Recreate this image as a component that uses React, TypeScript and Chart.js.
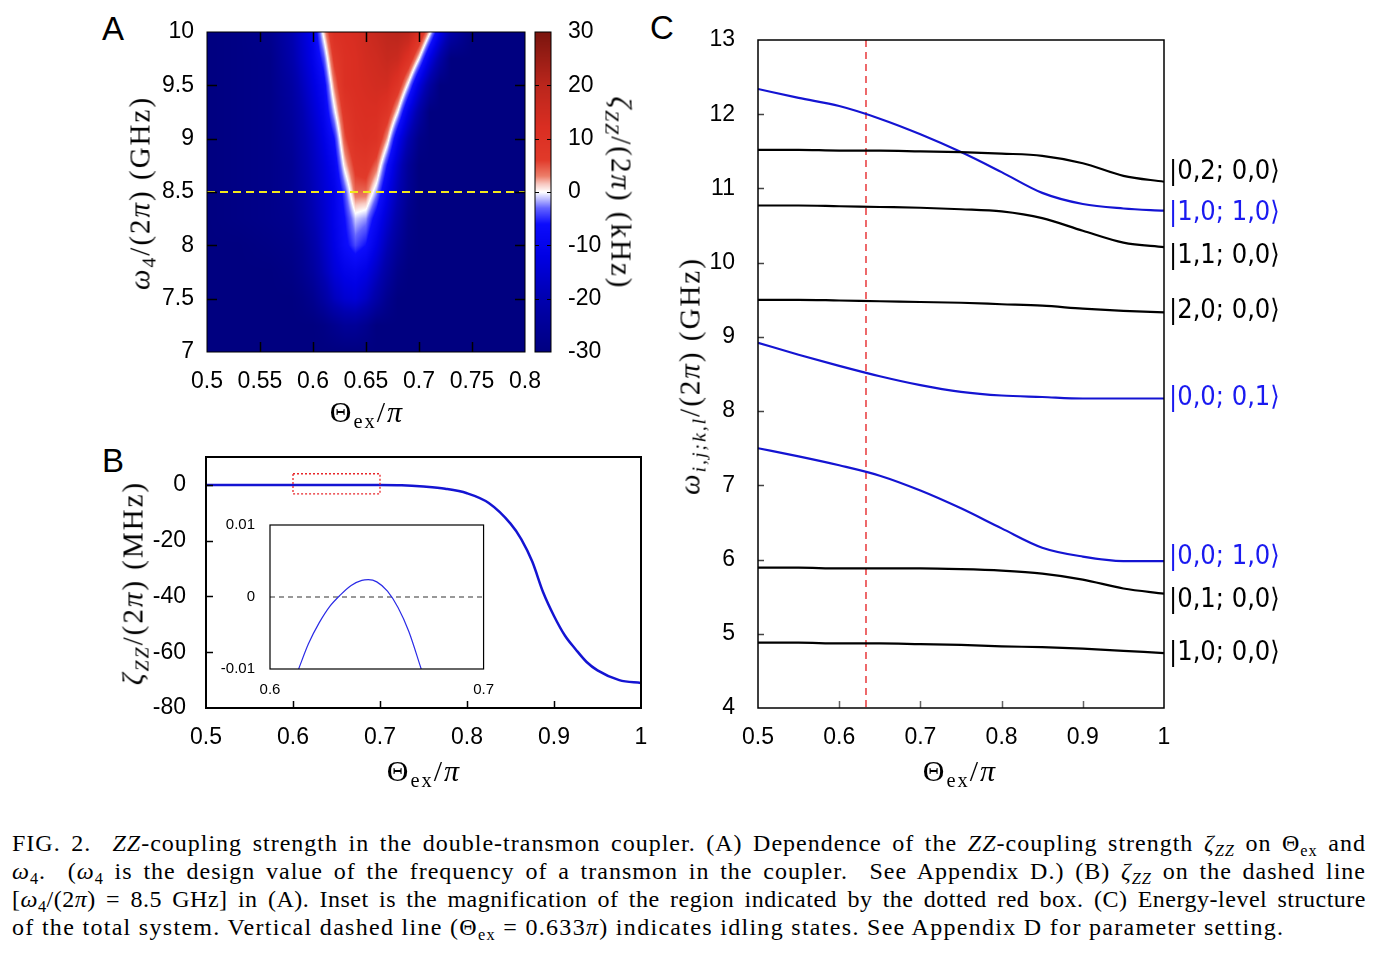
import React, { useEffect, useRef } from "react";
import { Chart, registerables } from "chart.js";

Chart.register(...registerables);

const FONT_SANS = '"Liberation Sans", Arial, Helvetica, sans-serif';
const FONT_SERIF = '"Liberation Serif", "Times New Roman", Times, serif';

/* ---------------- Panel A : zeta_ZZ map (kHz) ---------------- */
const mapTheta = [0.5, 0.53, 0.56, 0.58, 0.59, 0.6, 0.61, 0.62, 0.63, 0.64, 0.65, 0.66, 0.67, 0.68, 0.69, 0.7, 0.71, 0.72, 0.73, 0.75, 0.8];
const mapOmega = [7.0, 7.25, 7.5, 7.75, 8.0, 8.25, 8.5, 8.75, 9.0, 9.25, 9.5, 9.75, 10.0];
// one row per omega_4 value, one entry per Theta column (kHz, clipped to the colour range)
const zzAt7_00 = [-30, -30, -30, -30, -30, -30, -30, -30, -30, -30, -30, -30, -30, -30, -30, -30, -30, -30, -30, -30, -30];
const zzAt7_25 = [-30, -30, -30, -30, -30, -30, -29, -27, -25, -25, -27, -30, -30, -30, -30, -30, -30, -30, -30, -30, -30];
const zzAt7_50 = [-30, -30, -30, -30, -29, -27, -23, -18, -15, -14, -17, -22, -27, -30, -30, -30, -30, -30, -30, -30, -30];
const zzAt7_75 = [-30, -30, -30, -29, -27, -24, -19, -14, -11, -10, -12, -17, -23, -28, -30, -30, -30, -30, -30, -30, -30];
const zzAt8_00 = [-30, -30, -29, -28, -26, -22, -17, -12, -7, -4, -6, -12, -19, -25, -29, -30, -30, -30, -30, -30, -30];
const zzAt8_25 = [-30, -29, -28, -27, -24, -20, -16, -11, -6, -1, -2, -8, -15, -22, -28, -30, -30, -30, -30, -30, -30];
const zzAt8_50 = [-30, -29, -28, -26, -23, -19, -15, -11, -4, 4, 4, -2, -11, -19, -26, -30, -30, -30, -30, -30, -30];
const zzAt8_75 = [-30, -29, -28, -26, -22, -18, -14, -9, 1, 7, 8, 4, -6, -16, -25, -30, -30, -30, -30, -30, -30];
const zzAt9_00 = [-30, -29, -28, -25, -21, -17, -12, -6, 5, 10, 11, 10, 2, -10, -20, -28, -30, -30, -30, -30, -30];
const zzAt9_25 = [-30, -29, -28, -24, -20, -15, -10, -1, 8, 11, 12, 12, 9, 0, -12, -22, -30, -30, -30, -30, -30];
const zzAt9_50 = [-30, -29, -28, -23, -18, -13, -8, 3, 11, 12, 13, 14, 14, 9, -1, -13, -23, -30, -30, -30, -30];
const zzAt9_75 = [-30, -29, -28, -21, -16, -11, -4, 7, 11, 12, 14, 15, 17, 16, 10, 0, -12, -22, -30, -30, -30];
const zzAt10_00 = [-30, -29, -27, -20, -15, -10, 1, 11, 12, 13, 15, 17, 19, 20, 19, 12, 1, -11, -21, -30, -30];
const mapRows = [zzAt7_00, zzAt7_25, zzAt7_50, zzAt7_75, zzAt8_00, zzAt8_25, zzAt8_50, zzAt8_75, zzAt9_00, zzAt9_25, zzAt9_50, zzAt9_75, zzAt10_00];

const mapThetaTicks = [0.5, 0.55, 0.6, 0.65, 0.7, 0.75, 0.8];
const mapThetaLabels = ["0.5", "0.55", "0.6", "0.65", "0.7", "0.75", "0.8"];
const mapOmegaTicks = [7, 7.5, 8, 8.5, 9, 9.5, 10];
const mapOmegaLabels = ["7", "7.5", "8", "8.5", "9", "9.5", "10"];
const cutOmega = 8.5;

const barTicks = [-30, -20, -10, 0, 10, 20, 30];
const barLabels = ["-30", "-20", "-10", "0", "10", "20", "30"];

/* ---------------- Panel B : zeta_ZZ on the cut (MHz) ---------------- */
const thetaB = [0.5, 0.55, 0.6, 0.65, 0.7, 0.725, 0.75, 0.775, 0.8, 0.825, 0.85, 0.8625, 0.875, 0.8875, 0.9, 0.9125, 0.925, 0.9375, 0.95, 0.975, 1.0];
const zzB = [0, 0, 0, 0, 0, -0.1, -0.6, -1.4, -3.0, -6.5, -13.9, -19.5, -27.5, -38.5, -47, -54, -59, -63.5, -66.5, -70, -71];
const bThetaTicks = [0.5, 0.6, 0.7, 0.8, 0.9, 1];
const bThetaLabels = ["0.5", "0.6", "0.7", "0.8", "0.9", "1"];
const bZZTicks = [-80, -60, -40, -20, 0];
const bZZLabels = ["-80", "-60", "-40", "-20", "0"];
const boxTheta = [0.6, 0.7];
const boxZZ = [-3.2, 4.0];

/* inset */
const thetaInset = [0.6134, 0.618, 0.623, 0.628, 0.633, 0.638, 0.643, 0.646, 0.65, 0.655, 0.66, 0.665, 0.6708];
const zzInset = [-0.01, -0.0065, -0.0036, -0.0013, 0.0003, 0.0016, 0.0023, 0.0024, 0.0021, 0.0008, -0.0015, -0.0048, -0.01];
const insetThetaTicks = [0.6, 0.7];
const insetThetaLabels = ["0.6", "0.7"];
const insetZZTicks = [-0.01, 0, 0.01];
const insetZZLabels = ["-0.01", "0", "0.01"];

/* ---------------- Panel C : energy levels (GHz) ---------------- */
const thetaC = [0.5, 0.55, 0.6, 0.65, 0.7, 0.75, 0.8, 0.85, 0.9, 0.95, 1.0];
const lvl02_00 = [11.52, 11.52, 11.51, 11.51, 11.5, 11.49, 11.47, 11.44, 11.34, 11.17, 11.09];
const lvl10_10 = [12.34, 12.22, 12.11, 11.94, 11.73, 11.49, 11.22, 10.94, 10.79, 10.73, 10.7];
const lvl11_00 = [10.77, 10.77, 10.76, 10.75, 10.74, 10.72, 10.69, 10.6, 10.43, 10.27, 10.21];
const lvl20_00 = [9.5, 9.5, 9.49, 9.48, 9.47, 9.46, 9.44, 9.42, 9.38, 9.35, 9.33];
const lvl00_01 = [8.92, 8.76, 8.61, 8.47, 8.35, 8.26, 8.21, 8.19, 8.17, 8.17, 8.17];
const lvl00_10 = [7.5, 7.39, 7.27, 7.13, 6.93, 6.69, 6.42, 6.16, 6.04, 5.98, 5.98];
const lvl01_00 = [5.89, 5.89, 5.88, 5.88, 5.88, 5.87, 5.85, 5.81, 5.73, 5.61, 5.54];
const lvl10_00 = [4.88, 4.88, 4.87, 4.87, 4.86, 4.85, 4.83, 4.82, 4.8, 4.77, 4.74];
const levelNames = ["|0,2; 0,0\u27E9", "|1,0; 1,0\u27E9", "|1,1; 0,0\u27E9", "|2,0; 0,0\u27E9", "|0,0; 0,1\u27E9", "|0,0; 1,0\u27E9", "|0,1; 0,0\u27E9", "|1,0; 0,0\u27E9"];
const levelSeries = [lvl02_00, lvl10_10, lvl11_00, lvl20_00, lvl00_01, lvl00_10, lvl01_00, lvl10_00];
const levelIsBlue = [false, true, false, false, true, true, false, false];
const levelLabelAt = [11.22, 10.67, 10.09, 9.35, 8.18, 6.03, 5.45, 4.74];
const cThetaTicks = [0.5, 0.6, 0.7, 0.8, 0.9, 1];
const cThetaLabels = ["0.5", "0.6", "0.7", "0.8", "0.9", "1"];
const cOmegaTicks = [4, 5, 6, 7, 8, 9, 10, 11, 12, 13];
const cOmegaLabels = ["4", "5", "6", "7", "8", "9", "10", "11", "12", "13"];
const idleTheta = 0.633;

/* ---------------- styles ---------------- */
const COLOR_STOPS: number[][] = [
  [-30, 0, 0, 128],
  [-20, 0, 0, 175],
  [-12, 0, 0, 228],
  [-6, 12, 12, 252],
  [-3, 100, 100, 255],
  [-1.5, 180, 180, 255],
  [0, 255, 255, 255],
  [1.5, 248, 200, 192],
  [3, 236, 125, 105],
  [6, 225, 58, 42],
  [12, 218, 46, 34],
  [20, 186, 38, 28],
  [30, 122, 20, 14],
];
const BLUE = "#1414d2";

function zzColor(v: number): number[] {
  const s = COLOR_STOPS;
  if (v <= s[0][0]) return [s[0][1], s[0][2], s[0][3]];
  for (let i = 0; i < s.length - 1; i++) {
    if (v <= s[i + 1][0]) {
      const t = (v - s[i][0]) / (s[i + 1][0] - s[i][0]);
      return [1, 2, 3].map((k) => Math.round(s[i][k] + t * (s[i + 1][k] - s[i][k])));
    }
  }
  const l = s[s.length - 1];
  return [l[1], l[2], l[3]];
}

function locate(arr: number[], v: number): [number, number] {
  const n = arr.length;
  if (v <= arr[0]) return [0, 0];
  if (v >= arr[n - 1]) return [n - 2, 1];
  let i = 0;
  while (i < n - 2 && v > arr[i + 1]) i++;
  return [i, (v - arr[i]) / (arr[i + 1] - arr[i])];
}

function axis(s: any) {
  return {
    type: "linear",
    position: s.position,
    min: s.min,
    max: s.max,
    display: s.display ?? true,
    grid: { display: false, drawTicks: false, drawOnChartArea: false },
    border: { display: false },
    ticks: {
      color: "#000",
      font: { family: FONT_SANS, size: s.fontSize },
      padding: s.padding,
      autoSkip: false,
      maxRotation: 0,
      minRotation: 0,
      callback: (_v: any, i: number) => (s.labels[i] ?? ""),
    },
    afterBuildTicks: (sc: any) => {
      sc.ticks = s.ticks.map((v: number) => ({ value: v }));
    },
    afterFit: (sc: any) => {
      if (sc.isHorizontal()) sc.height = s.size;
      else sc.width = s.size;
    },
  };
}

function baseOptions(padding: any, scales: any) {
  return {
    responsive: false,
    maintainAspectRatio: false,
    animation: false,
    devicePixelRatio: 1,
    events: [],
    layout: { padding },
    plugins: { legend: { display: false }, tooltip: { enabled: false }, title: { display: false } },
    scales,
  };
}

function inner(values: number[]) {
  return values.slice(1, values.length - 1);
}

function inTicks(ctx: any, scale: any, values: number[], side: string, len: number, color: string, width: number, a: any) {
  ctx.save();
  ctx.strokeStyle = color;
  ctx.lineWidth = width;
  ctx.beginPath();
  for (const v of values) {
    const p = Math.round(scale.getPixelForValue(v)) + 0.5;
    if (side === "bottom") { ctx.moveTo(p, a.bottom); ctx.lineTo(p, a.bottom - len); }
    if (side === "top") { ctx.moveTo(p, a.top); ctx.lineTo(p, a.top + len); }
    if (side === "left") { ctx.moveTo(a.left, p); ctx.lineTo(a.left + len, p); }
    if (side === "right") { ctx.moveTo(a.right, p); ctx.lineTo(a.right - len, p); }
  }
  ctx.stroke();
  ctx.restore();
}

function frame(ctx: any, a: any, width: number, color: string) {
  ctx.save();
  ctx.strokeStyle = color;
  ctx.lineWidth = width;
  ctx.strokeRect(a.left, a.top, a.right - a.left, a.bottom - a.top);
  ctx.restore();
}

function pts(xs: number[], ys: number[]) {
  return xs.map((x, i) => ({ x, y: ys[i] }));
}

/* ---------------- chart configs ---------------- */
function mapConfig(): any {
  return {
    type: "scatter",
    data: { datasets: [] },
    options: baseOptions({ left: 0, top: 30, right: 30, bottom: 0 }, {
      x: axis({ position: "bottom", min: 0.5, max: 0.8, ticks: mapThetaTicks, labels: mapThetaLabels, size: 50, padding: 16, fontSize: 23 }),
      y: axis({ position: "left", min: 7, max: 10, ticks: mapOmegaTicks, labels: mapOmegaLabels, size: 70, padding: 13, fontSize: 23 }),
    }),
    plugins: [{
      id: "zzmap",
      afterDraw(chart: any) {
        const { ctx, chartArea: a } = chart;
        const xs = chart.scales.x, ys = chart.scales.y;
        const w = Math.round(a.right - a.left), h = Math.round(a.bottom - a.top);
        const off = document.createElement("canvas");
        off.width = w; off.height = h;
        const o = off.getContext("2d") as CanvasRenderingContext2D;
        const img = o.createImageData(w, h);
        for (let j = 0; j < h; j++) {
          const [r, ty] = locate(mapOmega, ys.getValueForPixel(a.top + j + 0.5));
          const lo = mapRows[r], hi = mapRows[r + 1];
          for (let i = 0; i < w; i++) {
            const [c, tx] = locate(mapTheta, xs.getValueForPixel(a.left + i + 0.5));
            const z = (1 - ty) * ((1 - tx) * lo[c] + tx * lo[c + 1]) + ty * ((1 - tx) * hi[c] + tx * hi[c + 1]);
            const col = zzColor(z);
            const k = (j * w + i) * 4;
            img.data[k] = col[0]; img.data[k + 1] = col[1]; img.data[k + 2] = col[2]; img.data[k + 3] = 255;
          }
        }
        o.putImageData(img, 0, 0);
        ctx.drawImage(off, a.left, a.top);
        ctx.save();
        ctx.strokeStyle = "#f2e81c";
        ctx.lineWidth = 2;
        ctx.setLineDash([8, 5]);
        const yy = ys.getPixelForValue(cutOmega);
        ctx.beginPath();
        ctx.moveTo(xs.getPixelForValue(0.5), yy);
        ctx.lineTo(xs.getPixelForValue(0.8), yy);
        ctx.stroke();
        ctx.restore();
        inTicks(ctx, xs, inner(mapThetaTicks), "bottom", 10, "#000", 1.5, a);
        inTicks(ctx, xs, inner(mapThetaTicks), "top", 10, "#000", 1.5, a);
        inTicks(ctx, ys, inner(mapOmegaTicks), "left", 10, "#000", 1.5, a);
        inTicks(ctx, ys, inner(mapOmegaTicks), "right", 10, "#000", 1.5, a);
        frame(ctx, a, 1, "#000");
      },
    }],
  };
}

function barConfig(): any {
  return {
    type: "scatter",
    data: { datasets: [] },
    options: baseOptions({ left: 5, top: 34, right: 0, bottom: 34 }, {
      x: { type: "linear", display: false, min: 0, max: 1 },
      y: axis({ position: "right", min: -30, max: 30, ticks: barTicks, labels: barLabels, size: 70, padding: 17, fontSize: 23 }),
    }),
    plugins: [{
      id: "colorbar",
      afterDraw(chart: any) {
        const { ctx, chartArea: a } = chart;
        const ys = chart.scales.y;
        for (let j = Math.floor(a.top); j < Math.ceil(a.bottom); j++) {
          const c = zzColor(ys.getValueForPixel(j + 0.5));
          ctx.fillStyle = `rgb(${c[0]},${c[1]},${c[2]})`;
          ctx.fillRect(a.left, j, a.right - a.left, 1);
        }
        inTicks(ctx, ys, inner(barTicks), "left", 4, "#000", 1.2, a);
        inTicks(ctx, ys, inner(barTicks), "right", 4, "#000", 1.2, a);
        frame(ctx, a, 1, "#000");
      },
    }],
  };
}

function bConfig(): any {
  return {
    type: "line",
    data: {
      datasets: [{
        data: pts(thetaB, zzB),
        borderColor: BLUE,
        borderWidth: 2.5,
        pointRadius: 0,
        cubicInterpolationMode: "monotone",
        fill: false,
      }],
    },
    options: baseOptions({ left: 0, top: 36, right: 25, bottom: 0 }, {
      x: axis({ position: "bottom", min: 0.5, max: 1, ticks: bThetaTicks, labels: bThetaLabels, size: 60, padding: 16, fontSize: 23 }),
      y: axis({ position: "left", min: -80, max: 10, ticks: bZZTicks, labels: bZZLabels, size: 80, padding: 20, fontSize: 23 }),
    }),
    plugins: [{
      id: "bdeco",
      afterDraw(chart: any) {
        const { ctx, chartArea: a } = chart;
        const xs = chart.scales.x, ys = chart.scales.y;
        inTicks(ctx, xs, inner(bThetaTicks), "bottom", 7, "#000", 1.5, a);
        inTicks(ctx, ys, bZZTicks.slice(1), "left", 7, "#000", 1.5, a);
        ctx.save();
        ctx.strokeStyle = "#e8262a";
        ctx.lineWidth = 1.3;
        ctx.setLineDash([2, 2]);
        const x0 = xs.getPixelForValue(boxTheta[0]), x1 = xs.getPixelForValue(boxTheta[1]);
        const y0 = ys.getPixelForValue(boxZZ[1]), y1 = ys.getPixelForValue(boxZZ[0]);
        ctx.strokeRect(x0, y0, x1 - x0, y1 - y0);
        ctx.restore();
        frame(ctx, a, 2, "#000");
      },
    }],
  };
}

function insetConfig(): any {
  return {
    type: "line",
    data: {
      datasets: [{
        data: pts(thetaInset, zzInset),
        borderColor: "#2a2ae6",
        borderWidth: 1.2,
        pointRadius: 0,
        cubicInterpolationMode: "monotone",
        fill: false,
      }],
    },
    options: baseOptions({ left: 0, top: 26, right: 20, bottom: 0 }, {
      x: axis({ position: "bottom", min: 0.6, max: 0.7, ticks: insetThetaTicks, labels: insetThetaLabels, size: 35, padding: 12, fontSize: 15 }),
      y: axis({ position: "left", min: -0.01, max: 0.01, ticks: insetZZTicks, labels: insetZZLabels, size: 60, padding: 15, fontSize: 15 }),
    }),
    plugins: [{
      id: "insetdeco",
      beforeDraw(chart: any) {
        const { ctx, chartArea: a } = chart;
        ctx.save();
        ctx.fillStyle = "#fff";
        ctx.fillRect(a.left, a.top, a.right - a.left, a.bottom - a.top);
        ctx.restore();
      },
      beforeDatasetsDraw(chart: any) {
        const { ctx, chartArea: a } = chart;
        const ys = chart.scales.y;
        const y0 = ys.getPixelForValue(0);
        ctx.save();
        ctx.strokeStyle = "#333";
        ctx.lineWidth = 1.2;
        ctx.setLineDash([5, 4]);
        ctx.beginPath();
        ctx.moveTo(a.left, y0);
        ctx.lineTo(a.right, y0);
        ctx.stroke();
        ctx.restore();
      },
      afterDraw(chart: any) {
        frame(chart.ctx, chart.chartArea, 1.2, "#000");
      },
    }],
  };
}

function cConfig(): any {
  return {
    type: "line",
    data: {
      datasets: levelSeries.map((s, i) => ({
        data: pts(thetaC, s),
        borderColor: levelIsBlue[i] ? BLUE : "#000",
        borderWidth: 2.2,
        pointRadius: 0,
        cubicInterpolationMode: "monotone",
        fill: false,
      })),
    },
    options: baseOptions({ left: 0, top: 40, right: 130, bottom: 0 }, {
      x: axis({ position: "bottom", min: 0.5, max: 1, ticks: cThetaTicks, labels: cThetaLabels, size: 60, padding: 16, fontSize: 23 }),
      y: axis({ position: "left", min: 4, max: 13, ticks: cOmegaTicks, labels: cOmegaLabels, size: 75, padding: 23, fontSize: 23 }),
    }),
    plugins: [{
      id: "cdeco",
      beforeDatasetsDraw(chart: any) {
        const { ctx, chartArea: a } = chart;
        const xs = chart.scales.x;
        const x = xs.getPixelForValue(idleTheta);
        ctx.save();
        ctx.strokeStyle = "#e8383a";
        ctx.lineWidth = 1.5;
        ctx.setLineDash([7, 5]);
        ctx.beginPath();
        ctx.moveTo(x, a.top);
        ctx.lineTo(x, a.bottom);
        ctx.stroke();
        ctx.restore();
      },
      afterDraw(chart: any) {
        const { ctx, chartArea: a } = chart;
        const xs = chart.scales.x, ys = chart.scales.y;
        inTicks(ctx, xs, inner(cThetaTicks), "bottom", 7, "#666", 1.5, a);
        inTicks(ctx, ys, inner(cOmegaTicks), "left", 6, "#444", 1.5, a);
        frame(ctx, a, 1.5, "#000");
        ctx.save();
        ctx.font = '27px "DejaVu Sans Condensed", "DejaVu Sans", sans-serif';
        ctx.textBaseline = "middle";
        ctx.textAlign = "left";
        levelNames.forEach((name, i) => {
          ctx.fillStyle = levelIsBlue[i] ? "#1a1af0" : "#000";
          ctx.fillText(name, a.right + 5, ys.getPixelForValue(levelLabelAt[i]));
        });
        ctx.restore();
      },
    }],
  };
}

/* ---------------- HTML text helpers ---------------- */
const Sub = ({ children }: any) => (
  <span style={{ fontSize: "0.68em", position: "relative", top: "0.3em", lineHeight: 0 }}>{children}</span>
);

function At({ x, y, rot = 0, size, family = FONT_SERIF, spacing = 0, children }: any) {
  return (
    <div
      style={{
        position: "absolute",
        left: x,
        top: y,
        transform: `translate(-50%, -50%) rotate(${rot}deg)`,
        fontFamily: family,
        fontSize: size,
        lineHeight: 1,
        whiteSpace: "nowrap",
        letterSpacing: spacing,
        color: "#000",
      }}
    >
      {children}
    </div>
  );
}

function CapLine({ top, last = false, spacing = 1.0, children }: any) {
  return (
    <div
      style={{
        position: "absolute",
        left: 12,
        top,
        width: 1354,
        fontFamily: FONT_SERIF,
        fontSize: 24,
        letterSpacing: spacing,
        lineHeight: "28px",
        textAlign: last ? "left" : "justify",
        textAlignLast: last ? "left" : "justify",
        color: "#000",
      } as any}
    >
      {children}
    </div>
  );
}

const thetaTitle = (
  <span>
    Θ<Sub>ex</Sub>/<i>π</i>
  </span>
);

export default function App() {
  const mapRef = useRef<HTMLCanvasElement>(null);
  const barRef = useRef<HTMLCanvasElement>(null);
  const bRef = useRef<HTMLCanvasElement>(null);
  const insetRef = useRef<HTMLCanvasElement>(null);
  const cRef = useRef<HTMLCanvasElement>(null);

  useEffect(() => {
    const charts = [
      new Chart(mapRef.current as any, mapConfig()),
      new Chart(barRef.current as any, barConfig()),
      new Chart(bRef.current as any, bConfig()),
      new Chart(insetRef.current as any, insetConfig()),
      new Chart(cRef.current as any, cConfig()),
    ];
    return () => charts.forEach((c) => c.destroy());
  }, []);

  const cv = (left: number, top: number, width: number, height: number) => ({
    position: "absolute" as const,
    left,
    top,
    width,
    height,
  });

  return (
    <div style={{ position: "absolute", left: 0, top: 0, width: 1382, height: 954, background: "#fff", overflow: "hidden" }}>
      <canvas ref={mapRef} width={420} height={400} style={cv(137, 2, 420, 400)} />
      <canvas ref={barRef} width={91} height={388} style={cv(530, -2, 91, 388)} />
      <canvas ref={bRef} width={540} height={347} style={cv(126, 421, 540, 347)} />
      <canvas ref={insetRef} width={296} height={205} style={cv(210, 499, 296, 205)} />
      <canvas ref={cRef} width={611} height={768} style={cv(683, 0, 611, 768)} />

      <At x={113} y={28} size={33} family={FONT_SANS}>A</At>
      <At x={113} y={460} size={33} family={FONT_SANS}>B</At>
      <At x={662} y={27} size={33} family={FONT_SANS}>C</At>

      <At x={367} y={412} size={30} spacing={2}>{thetaTitle}</At>
      <At x={424} y={771} size={30} spacing={2}>{thetaTitle}</At>
      <At x={960} y={771} size={30} spacing={2}>{thetaTitle}</At>

      <At x={140} y={193} rot={-90} size={29} spacing={2}>
        <i>ω</i><Sub>4</Sub>/(2<i>π</i>) (GHz)
      </At>
      <At x={621} y={193} rot={90} size={29} spacing={2}>
        <i>ζ</i><Sub><i>ZZ</i></Sub>/(2<i>π</i>) (kHz)
      </At>
      <At x={133} y={583} rot={-90} size={29} spacing={2}>
        <i>ζ</i><Sub><i>ZZ</i></Sub>/(2<i>π</i>) (MHz)
      </At>
      <At x={690} y={376} rot={-90} size={29} spacing={2}>
        <i>ω</i><Sub><i>i,j;k,l</i></Sub>/(2<i>π</i>) (GHz)
      </At>

      <CapLine top={829} spacing={1.0}>
        FIG. 2.&nbsp; <i>ZZ</i>-coupling strength in the double-transmon coupler. (A) Dependence of the <i>ZZ</i>-coupling strength <i>ζ</i><Sub><i>ZZ</i></Sub> on Θ<Sub>ex</Sub> and
      </CapLine>
      <CapLine top={857} spacing={1.0}>
        <i>ω</i><Sub>4</Sub>.&nbsp; (<i>ω</i><Sub>4</Sub> is the design value of the frequency of a transmon in the coupler.&nbsp; See Appendix D.) (B) <i>ζ</i><Sub><i>ZZ</i></Sub> on the dashed line
      </CapLine>
      <CapLine top={885} spacing={0.5}>
        [<i>ω</i><Sub>4</Sub>/(2<i>π</i>) = 8.5 GHz] in (A). Inset is the magnification of the region indicated by the dotted red box. (C) Energy-level structure
      </CapLine>
      <CapLine top={913} last spacing={1.3}>
        of the total system. Vertical dashed line (Θ<Sub>ex</Sub> = 0.633<i>π</i>) indicates idling states. See Appendix D for parameter setting.
      </CapLine>
    </div>
  );
}
